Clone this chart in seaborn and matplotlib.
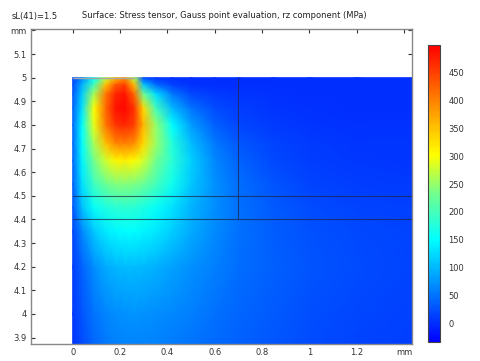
import numpy as np
import matplotlib
matplotlib.use("Agg")
import matplotlib.pyplot as plt
from matplotlib.colors import LinearSegmentedColormap, Normalize
import seaborn as sns

sns.set_theme(style="ticks")
plt.rcParams['font.family'] = ['DejaVu Sans']

# ---- data (MPa) ----
x_mm = [0.0, 0.04, 0.09, 0.14, 0.18, 0.22, 0.26, 0.30, 0.35, 0.42, 0.50, 0.60, 0.70, 0.85, 1.0, 1.2, 1.45]
y_mm = [5.0, 4.97, 4.93, 4.87, 4.80, 4.72, 4.65, 4.55, 4.45, 4.35, 4.2, 4.0, 3.85]
row_500 = [15, 65, 150, 270, 350, 390, 260, 20, 5, 2, 0, 0, 0, 0, 0, 0, 0]
row_497 = [22, 95, 200, 350, 430, 450, 350, 110, 45, 12, 3, 1, 0, 0, 0, 0, 0]
row_493 = [30, 115, 260, 410, 470, 485, 420, 230, 130, 55, 20, 8, 4, 2, 1, 0, 0]
row_487 = [38, 130, 300, 420, 485, 495, 460, 330, 200, 100, 50, 22, 11, 5, 2, 1, 0]
row_480 = [42, 150, 290, 410, 460, 470, 450, 360, 250, 150, 80, 36, 18, 9, 5, 3, 2]
row_472 = [42, 150, 260, 350, 395, 400, 390, 330, 255, 175, 105, 55, 30, 14, 8, 5, 4]
row_465 = [40, 145, 235, 280, 310, 315, 305, 280, 235, 180, 118, 66, 38, 20, 11, 7, 5]
row_455 = [35, 130, 195, 228, 240, 242, 238, 225, 200, 160, 112, 72, 46, 27, 16, 10, 8]
row_445 = [28, 105, 155, 172, 180, 182, 179, 170, 155, 130, 97, 69, 48, 31, 21, 15, 12]
row_435 = [18, 65, 110, 136, 146, 150, 150, 145, 135, 115, 90, 67, 49, 34, 25, 19, 16]
row_420 = [10, 38, 70, 90, 98, 102, 102, 100, 94, 84, 72, 58, 46, 35, 27, 21, 16]
row_400 = [7, 28, 50, 63, 69, 72, 73, 72, 70, 65, 58, 49, 40, 32, 24, 18, 13]
row_385 = [5, 22, 40, 52, 57, 60, 61, 61, 59, 55, 49, 42, 35, 28, 21, 15, 11]
stress_rz = np.array([row_500, row_497, row_493, row_487, row_480, row_472, row_465,
                      row_455, row_445, row_435, row_420, row_400, row_385], dtype=float)

cbar_ticks = [0, 50, 100, 150, 200, 250, 300, 350, 400, 450]
x_ticks = [0, 0.2, 0.4, 0.6, 0.8, 1.0, 1.2, 1.4]
x_labels = ["0", "0.2", "0.4", "0.6", "0.8", "1", "1.2", "mm"]
y_ticks = [3.9, 4.0, 4.1, 4.2, 4.3, 4.4, 4.5, 4.6, 4.7, 4.8, 4.9, 5.0, 5.1, 5.2]
y_labels = ["3.9", "4", "4.1", "4.2", "4.3", "4.4", "4.5", "4.6", "4.7", "4.8", "4.9", "5", "5.1", "mm"]
vmin, vmax = -34, 500

# COMSOL-like rainbow
cmap = LinearSegmentedColormap.from_list("rainbow_c", [
    (0.0, (0.0, 0.0, 1.0)),
    (0.345, (0.0, 1.0, 1.0)),
    (0.50, (0.45, 1.0, 0.55)),
    (0.63, (1.0, 1.0, 0.0)),
    (0.80, (1.0, 0.55, 0.0)),
    (1.0, (1.0, 0.0, 0.0)),
])

FS = 6
fig = plt.figure(figsize=(4.81, 3.61), dpi=100)
ax = fig.add_axes([31/481, 1-344/361, 380.7/481, 315/361])
ax.set_facecolor("white")

X, Y = np.meshgrid(x_mm, y_mm)
norm = Normalize(vmin=vmin, vmax=vmax)
mesh = ax.pcolormesh(X, Y, stress_rz, cmap=cmap, norm=norm, shading="gouraud", rasterized=True)

# geometry edges
lc = (0.1, 0.15, 0.25, 0.7)
ax.plot([0, 1.45], [4.5, 4.5], color=lc, lw=0.8)
ax.plot([0, 1.45], [4.4, 4.4], color=lc, lw=0.8)
ax.plot([0.7, 0.7], [4.4, 5.0], color=lc, lw=0.8)
ax.plot([0, 0.26], [5.0, 5.0], color=(0.65, 0.65, 0.65), lw=1.0)

ax.set_xlim(-0.176, 1.432)
ax.set_ylim(3.873, 5.206)
ax.set_xticks(x_ticks)
ax.set_xticklabels(x_labels)
ax.set_yticks(y_ticks)
ax.set_yticklabels(y_labels)
ax.tick_params(direction="in", length=3, width=0.8, colors="#333333", labelsize=FS,
               top=True, right=True, pad=3)
for s in ax.spines.values():
    s.set_color("#888888")
    s.set_linewidth(1.0)

fig.text(12/481, 1-16/361, "sL(41)=1.5", fontsize=FS, color="#222222", va="center")
fig.text(82/481, 1-16/361, "Surface: Stress tensor, Gauss point evaluation, rz component (MPa)",
         fontsize=FS, color="#222222", va="center")

cax = fig.add_axes([428/481, 1-342/361, 12/481, 297/361])
cb = fig.colorbar(mesh, cax=cax, ticks=cbar_ticks)
cb.outline.set_edgecolor("#444444")
cb.outline.set_linewidth(0.8)
cax.tick_params(direction="in", length=2, width=0.6, colors="#333333", labelsize=FS,
                left=True, right=True, pad=6)

fig.savefig("out.png", dpi=100)
